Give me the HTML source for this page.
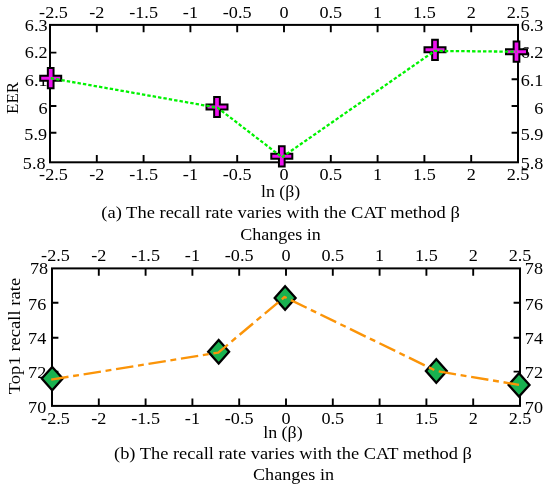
<!DOCTYPE html><html><head><meta charset="utf-8"><title>chart</title><style>html,body{margin:0;padding:0;background:#fff}svg{display:block}text{font-family:"Liberation Serif","DejaVu Serif",serif;font-size:17px;fill:#000}</style></head><body>
<svg width="550" height="491" viewBox="0 0 550 491">
<rect width="550" height="491" fill="#fff"/>
<rect x="50" y="24.9" width="468" height="137.4" fill="none" stroke="#000" stroke-width="2"/>
<text transform="translate(53.5 18.0) scale(1.07 1)" text-anchor="middle">-2.5</text>
<text transform="translate(53.5 180.2) scale(1.07 1)" text-anchor="middle">-2.5</text>
<text transform="translate(96.8 18.0) scale(1.07 1)" text-anchor="middle">-2</text>
<text transform="translate(96.8 180.2) scale(1.07 1)" text-anchor="middle">-2</text>
<text transform="translate(143.6 18.0) scale(1.07 1)" text-anchor="middle">-1.5</text>
<text transform="translate(143.6 180.2) scale(1.07 1)" text-anchor="middle">-1.5</text>
<text transform="translate(190.4 18.0) scale(1.07 1)" text-anchor="middle">-1</text>
<text transform="translate(190.4 180.2) scale(1.07 1)" text-anchor="middle">-1</text>
<text transform="translate(237.2 18.0) scale(1.07 1)" text-anchor="middle">-0.5</text>
<text transform="translate(237.2 180.2) scale(1.07 1)" text-anchor="middle">-0.5</text>
<text transform="translate(284.0 18.0) scale(1.07 1)" text-anchor="middle">0</text>
<text transform="translate(284.0 180.2) scale(1.07 1)" text-anchor="middle">0</text>
<text transform="translate(330.8 18.0) scale(1.07 1)" text-anchor="middle">0.5</text>
<text transform="translate(330.8 180.2) scale(1.07 1)" text-anchor="middle">0.5</text>
<text transform="translate(377.6 18.0) scale(1.07 1)" text-anchor="middle">1</text>
<text transform="translate(377.6 180.2) scale(1.07 1)" text-anchor="middle">1</text>
<text transform="translate(424.4 18.0) scale(1.07 1)" text-anchor="middle">1.5</text>
<text transform="translate(424.4 180.2) scale(1.07 1)" text-anchor="middle">1.5</text>
<text transform="translate(471.2 18.0) scale(1.07 1)" text-anchor="middle">2</text>
<text transform="translate(471.2 180.2) scale(1.07 1)" text-anchor="middle">2</text>
<text transform="translate(518.0 18.0) scale(1.07 1)" text-anchor="middle">2.5</text>
<text transform="translate(518.0 180.2) scale(1.07 1)" text-anchor="middle">2.5</text>
<text transform="translate(47.6 30.9) scale(1.07 1)" text-anchor="end">6.3</text>
<text transform="translate(543.4 30.9) scale(1.07 1)" text-anchor="end">6.3</text>
<text transform="translate(47.6 58.4) scale(1.07 1)" text-anchor="end">6.2</text>
<text transform="translate(543.4 58.4) scale(1.07 1)" text-anchor="end">6.2</text>
<text transform="translate(47.6 85.9) scale(1.07 1)" text-anchor="end">6.1</text>
<text transform="translate(543.4 85.9) scale(1.07 1)" text-anchor="end">6.1</text>
<text transform="translate(47.6 113.7) scale(1.07 1)" text-anchor="end">6</text>
<text transform="translate(543.4 113.7) scale(1.07 1)" text-anchor="end">6</text>
<text transform="translate(47.1 140.0) scale(1.07 1)" text-anchor="end">5.9</text>
<text transform="translate(543.4 140.0) scale(1.07 1)" text-anchor="end">5.9</text>
<text transform="translate(45.6 168.7) scale(1.07 1)" text-anchor="end">5.8</text>
<text transform="translate(543.4 168.7) scale(1.07 1)" text-anchor="end">5.8</text>
<path d="M96.8 24.9v7.4M96.8 162.3v-7.4M143.6 24.9v7.4M143.6 162.3v-7.4M190.4 24.9v7.4M190.4 162.3v-7.4M237.2 24.9v7.4M237.2 162.3v-7.4M284.0 24.9v7.4M284.0 162.3v-7.4M330.8 24.9v7.4M330.8 162.3v-7.4M377.6 24.9v7.4M377.6 162.3v-7.4M424.4 24.9v7.4M424.4 162.3v-7.4M471.2 24.9v7.4M471.2 162.3v-7.4M50 52.6h6.4M518 52.6h-6.4M50 79.3h6.4M518 79.3h-6.4M50 106.0h6.4M518 106.0h-6.4M50 132.7h6.4M518 132.7h-6.4" stroke="#000" stroke-width="1.9" fill="none"/>
<text transform="translate(17.7 98) rotate(-90)" text-anchor="middle" textLength="31.8" lengthAdjust="spacingAndGlyphs">EER</text>
<text x="261" y="196.5" textLength="39.2" lengthAdjust="spacingAndGlyphs">ln (β)</text>
<text x="101.3" y="217.8" textLength="358.5" lengthAdjust="spacingAndGlyphs">(a) The recall rate varies with the CAT method β</text>
<text x="240.3" y="239.5" textLength="80.5" lengthAdjust="spacingAndGlyphs">Changes in</text>
<path d="M47.85 68.10h5.7v7.6h7.65v5.0h-7.65v7.6h-5.7v-7.6h-7.65v-5.0h7.65z" fill="#ee12ee" stroke="#000" stroke-width="2"/>
<path d="M214.15 96.90h5.7v7.6h7.65v5.0h-7.65v7.6h-5.7v-7.6h-7.65v-5.0h7.65z" fill="#ee12ee" stroke="#000" stroke-width="2"/>
<path d="M278.95 146.20h5.7v7.6h7.65v5.0h-7.65v7.6h-5.7v-7.6h-7.65v-5.0h7.65z" fill="#ee12ee" stroke="#000" stroke-width="2"/>
<path d="M432.15 39.70h5.7v7.6h7.65v5.0h-7.65v7.6h-5.7v-7.6h-7.65v-5.0h7.65z" fill="#ee12ee" stroke="#000" stroke-width="2"/>
<path d="M513.65 41.60h5.7v7.6h7.65v5.0h-7.65v7.6h-5.7v-7.6h-7.65v-5.0h7.65z" fill="#ee12ee" stroke="#000" stroke-width="2"/>
<polyline points="50.7,78.2 217.5,107.7 282.0,157.2 434.7,50.9 516.5,51.7" fill="none" stroke="#00f200" stroke-width="2.3" stroke-dasharray="3.4 2.05" stroke-linejoin="round"/>
<rect x="52" y="268.4" width="468" height="137.5" fill="none" stroke="#000" stroke-width="2"/>
<text transform="translate(55.5 261.4) scale(1.07 1)" text-anchor="middle">-2.5</text>
<text transform="translate(55.5 423.7) scale(1.07 1)" text-anchor="middle">-2.5</text>
<text transform="translate(98.8 261.4) scale(1.07 1)" text-anchor="middle">-2</text>
<text transform="translate(98.8 423.7) scale(1.07 1)" text-anchor="middle">-2</text>
<text transform="translate(145.6 261.4) scale(1.07 1)" text-anchor="middle">-1.5</text>
<text transform="translate(145.6 423.7) scale(1.07 1)" text-anchor="middle">-1.5</text>
<text transform="translate(192.4 261.4) scale(1.07 1)" text-anchor="middle">-1</text>
<text transform="translate(192.4 423.7) scale(1.07 1)" text-anchor="middle">-1</text>
<text transform="translate(239.2 261.4) scale(1.07 1)" text-anchor="middle">-0.5</text>
<text transform="translate(239.2 423.7) scale(1.07 1)" text-anchor="middle">-0.5</text>
<text transform="translate(286.0 261.4) scale(1.07 1)" text-anchor="middle">0</text>
<text transform="translate(286.0 423.7) scale(1.07 1)" text-anchor="middle">0</text>
<text transform="translate(332.8 261.4) scale(1.07 1)" text-anchor="middle">0.5</text>
<text transform="translate(332.8 423.7) scale(1.07 1)" text-anchor="middle">0.5</text>
<text transform="translate(379.6 261.4) scale(1.07 1)" text-anchor="middle">1</text>
<text transform="translate(379.6 423.7) scale(1.07 1)" text-anchor="middle">1</text>
<text transform="translate(426.4 261.4) scale(1.07 1)" text-anchor="middle">1.5</text>
<text transform="translate(426.4 423.7) scale(1.07 1)" text-anchor="middle">1.5</text>
<text transform="translate(473.2 261.4) scale(1.07 1)" text-anchor="middle">2</text>
<text transform="translate(473.2 423.7) scale(1.07 1)" text-anchor="middle">2</text>
<text transform="translate(520.0 261.4) scale(1.07 1)" text-anchor="middle">2.5</text>
<text transform="translate(520.0 423.7) scale(1.07 1)" text-anchor="middle">2.5</text>
<text transform="translate(48.1 274.4) scale(1.07 1)" text-anchor="end">78</text>
<text transform="translate(543.0 274.4) scale(1.07 1)" text-anchor="end">78</text>
<text transform="translate(46.3 309.5) scale(1.07 1)" text-anchor="end">76</text>
<text transform="translate(543.0 309.5) scale(1.07 1)" text-anchor="end">76</text>
<text transform="translate(46.3 343.8) scale(1.07 1)" text-anchor="end">74</text>
<text transform="translate(543.0 343.8) scale(1.07 1)" text-anchor="end">74</text>
<text transform="translate(46.3 378.2) scale(1.07 1)" text-anchor="end">72</text>
<text transform="translate(543.0 378.2) scale(1.07 1)" text-anchor="end">72</text>
<text transform="translate(46.3 412.6) scale(1.07 1)" text-anchor="end">70</text>
<text transform="translate(543.0 412.6) scale(1.07 1)" text-anchor="end">70</text>
<path d="M98.8 268.4v7.4M98.8 405.9v-7.4M145.6 268.4v7.4M145.6 405.9v-7.4M192.4 268.4v7.4M192.4 405.9v-7.4M239.2 268.4v7.4M239.2 405.9v-7.4M286.0 268.4v7.4M286.0 405.9v-7.4M332.8 268.4v7.4M332.8 405.9v-7.4M379.6 268.4v7.4M379.6 405.9v-7.4M426.4 268.4v7.4M426.4 405.9v-7.4M473.2 268.4v7.4M473.2 405.9v-7.4M52 302.8h6.4M520 302.8h-6.4M52 337.7h6.4M520 337.7h-6.4M52 371.6h6.4M520 371.6h-6.4" stroke="#000" stroke-width="1.9" fill="none"/>
<text transform="translate(20.2 336) rotate(-90)" text-anchor="middle" textLength="116.5" lengthAdjust="spacingAndGlyphs">Top1 recall rate</text>
<text x="263.2" y="438.2" textLength="39.5" lengthAdjust="spacingAndGlyphs">ln (β)</text>
<text x="114" y="459.3" textLength="358" lengthAdjust="spacingAndGlyphs">(b) The recall rate varies with the CAT method β</text>
<text x="253" y="480" textLength="81" lengthAdjust="spacingAndGlyphs">Changes in</text>
<path d="M52.2 366.9L62.7 378.6L52.2 390.3L41.8 378.6z" fill="#19b250" stroke="#000" stroke-width="2.3"/>
<path d="M218.7 340.0L229.1 351.7L218.7 363.4L208.2 351.7z" fill="#19b250" stroke="#000" stroke-width="2.3"/>
<path d="M285.1 286.3L295.6 298.0L285.1 309.7L274.7 298.0z" fill="#19b250" stroke="#000" stroke-width="2.3"/>
<path d="M436.3 359.3L446.8 371L436.3 382.7L425.9 371z" fill="#19b250" stroke="#000" stroke-width="2.3"/>
<path d="M519 373.2L529.5 384.9L519 396.6L508.6 384.9z" fill="#19b250" stroke="#000" stroke-width="2.3"/>
<polyline points="51.2,379.6 218.3,352.6 284.6,297.0 436.3,371 519,384.9" fill="none" stroke="#fb9408" stroke-width="2.4" stroke-dasharray="17.5 4.7 5.9 4.75" stroke-linejoin="round"/>
</svg></body></html>
